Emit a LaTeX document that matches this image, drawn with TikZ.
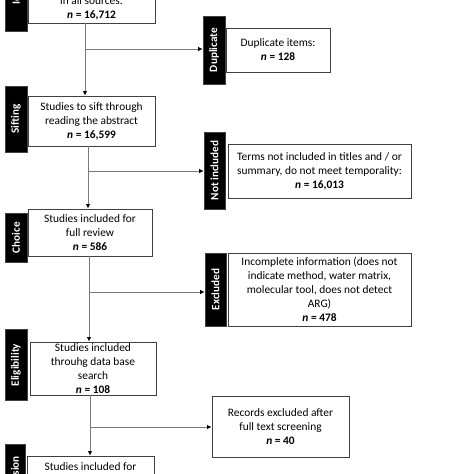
\documentclass[tikz,border=0pt]{standalone}
\usepackage{fontspec}
\setmainfont{Carlito}
\usetikzlibrary{arrows.meta}
\definecolor{connc}{HTML}{7A7A7A}
\definecolor{edgec}{HTML}{404040}
\newcommand\nval{\textbf{\textit{n} = }}
\begin{document}
\begin{tikzpicture}[x=1pt,y=-1pt,
  box/.style={draw=edgec, line width=0.8pt, fill=white, inner sep=1pt, align=center,
    font=\fontsize{11.4}{14}\selectfont},
  txt/.style={inner sep=0pt, align=center, font=\fontsize{11.4}{14}\selectfont},
  tag/.style={fill=black, text=white, font=\fontsize{11.2}{13}\selectfont\bfseries,
    rotate=90, inner sep=0pt, draw=edgec, line width=0.6pt},
  conn/.style={draw=connc, line width=0.9pt},
  arr/.style={conn, -{Latex[length=4.5pt,width=4.5pt,color=black]}}]
\useasboundingbox (0,0) rectangle (474,474);
\fill[white] (0,0) rectangle (474,474);
\clip (0,0) rectangle (474,474);
% phase labels
\node[tag, minimum width=114pt, minimum height=22pt] (ltop) at (16,-26) {Identification};
\node[tag, minimum width=66pt, minimum height=22pt] (lsift) at (16,119) {Sifting};
\node[tag, minimum width=49pt, minimum height=22pt] (lchoice) at (16,237.5) {Choice};
\node[tag, minimum width=71pt, minimum height=22pt] (lelig) at (16,365) {Eligibility};
\node[tag, minimum width=66pt, minimum height=20pt] (lincl) at (15,477) {Inclusion};
\node[tag, minimum width=68pt, minimum height=22pt] (ldup) at (214,50) {Duplicate};
\node[tag, minimum width=77pt, minimum height=21pt] (lni) at (214.5,170.5) {Not included};
\node[tag, minimum width=73pt, minimum height=21pt] (lexc) at (215.5,289.5) {Excluded};
% main boxes
\node[box, minimum width=127pt, minimum height=93pt] (b1) at (91.5,-23.5) {};
\node[txt] (t1) at (91.5,8) {in all sources.\\\nval\textbf{16,712}};
\node[box, minimum width=127pt, minimum height=50pt] (b2) at (91.5,121) {Studies to sift through\\reading the abstract\\\nval\textbf{16,599}};
\node[box, minimum width=124pt, minimum height=47pt] (b3) at (90,232.5) {Studies included for\\full review\\\nval\textbf{586}};
\node[box, minimum width=126pt, minimum height=53pt] (b4) at (93,368.5) {Studies included\\throuhg data base\\search\\\nval\textbf{108}};
\node[box, minimum width=127pt, minimum height=68pt] (b5) at (90.5,490) {};
\node[txt] (t5) at (90.5,467) {Studies included for};
% side boxes
\node[box, minimum width=104pt, minimum height=44pt] (bdup) at (278,50) {Duplicate items:\\\nval\textbf{128}};
\node[box, minimum width=183pt, minimum height=54pt] (bni) at (319.5,171) {Terms not included in titles and / or\\summary, do not meet temporality:\\\nval\textbf{16,013}};
\node[box, minimum width=183pt, minimum height=73pt] (bexc) at (319.5,289.5) {Incomplete information (does not\\indicate method, water matrix,\\molecular tool, does not detect\\ARG)\\\nval\textbf{478}};
\node[box, minimum width=137pt, minimum height=61pt] (brec) at (280.5,426.5) {Records excluded after\\full text screening\\\nval\textbf{40}};
% junctions
\coordinate (j1) at (85,49);
\coordinate (j2) at (88,171);
\coordinate (j3) at (89,292);
\coordinate (j4) at (90,427);
% connectors
\draw[arr] (b1.south -| j1) -- (b2.north -| j1);
\draw[arr] (j1) -- (j1 -| ldup.north);
\draw[arr] (b2.south -| j2) -- (b3.north -| j2);
\draw[arr] (j2) -- (j2 -| lni.north);
\draw[arr] (b3.south -| j3) -- (b4.north -| j3);
\draw[arr] (j3) -- (j3 -| lexc.north);
\draw[arr] (b4.south -| j4) -- (b5.north -| j4);
\draw[arr] (j4) -- (j4 -| brec.west);
\end{tikzpicture}
\end{document}
